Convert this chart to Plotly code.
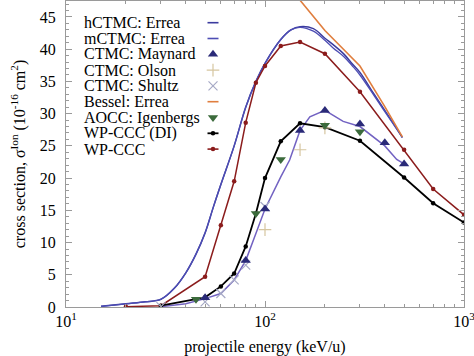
import plotly.graph_objects as go

# ---------------- data ----------------
energy_h = [15, 20, 25, 30, 35, 40, 45, 50, 55, 60, 70, 80, 90, 100, 120, 135, 150, 175, 200, 220, 250, 275, 300, 350, 400, 450, 490]
hctmc = [0.1, 0.5, 0.8, 1.2, 2.9, 5.3, 8.2, 11.5, 15.5, 19.0, 25.0, 31.0, 35.0, 37.8, 41.5, 43.0, 43.5, 43.2, 41.7, 40.7, 39.2, 37.7, 36.4, 33.2, 30.5, 28.1, 26.3]
mctmc = [0.1, 0.5, 0.8, 1.2, 2.9, 5.3, 8.2, 11.5, 15.5, 19.0, 25.0, 31.0, 35.0, 37.8, 41.5, 43.0, 43.4, 42.8, 41.4, 40.2, 38.8, 37.4, 36.0, 33.0, 30.3, 28.0, 26.3]

energy_maynard = [50, 80, 100, 150, 200, 300, 400, 500]
maynard = [1.45, 7.2, 15.2, 27.4, 30.5, 28.4, 25.5, 22.2]

energy_ctmc_line = [30, 40, 50, 60, 70, 80, 90, 100, 120, 133, 150, 168, 200, 247, 300, 364, 400, 459, 500]
ctmc_line = [0.05, 0.5, 1.3, 2.1, 4.2, 7.2, 11.4, 15.2, 20.2, 22.8, 27.4, 29.5, 30.5, 28.8, 28.0, 25.9, 25.0, 22.9, 22.2]

energy_olson = [100, 150, 200]
olson = [12.0, 24.4, 27.8]

energy_shultz = [30, 50, 60, 70, 80, 100]
shultz = [0.05, 0.8, 2.1, 4.2, 6.5, 15.6]

energy_bessel = [140, 150, 200, 300, 400, 490]
bessel = [49.0, 47.6, 42.9, 37.4, 31.1, 26.4]

energy_aocc = [45, 90, 120, 200, 300]
aocc = [1.2, 14.5, 22.9, 28.2, 27.2]

energy_di = [30, 50, 60, 70, 80, 90, 100, 120, 150, 200, 300, 500, 700, 1000]
wpccc_di = [0.2, 1.5, 3.2, 5.2, 9.4, 14.5, 20.0, 25.7, 28.5, 27.9, 25.8, 20.1, 16.1, 13.1]

energy_wp = [20, 30, 50, 60, 70, 80, 90, 100, 120, 150, 200, 300, 500, 700, 1000]
wpccc = [0.05, 0.2, 4.7, 12.7, 19.5, 28.6, 34.8, 37.4, 40.5, 41.1, 39.3, 33.4, 24.4, 18.3, 14.3]

legend_labels = ["hCTMC: Errea", "mCTMC: Errea", "CTMC: Maynard", "CTMC: Olson", "CTMC: Shultz",
                 "Bessel: Errea", "AOCC: Igenbergs", "WP-CCC (DI)", "WP-CCC"]

x_ticks = [10, 100, 1000]
x_ticktext = ["10<sup>1</sup>", "10<sup>2</sup>", "10<sup>3</sup>"]
x_minor = [20, 30, 40, 50, 60, 70, 80, 90, 200, 300, 400, 500, 600, 700, 800, 900]

# ---------------- style ----------------
C_H = "#3b3b9e"
C_M = "#4d4db4"
C_MAY = "#2a2a78"
C_PURP = "#7262c2"
C_OLS = "#d6c6a0"
C_SHU = "#a6a9c6"
C_BES = "#e07e3e"
C_AOCC = "#3c6b3c"
C_DI = "#000000"
C_WP = "#8b1c1c"
FONT = "Liberation Serif, Times New Roman, DejaVu Serif, serif"

fig = go.Figure()
fig.add_trace(go.Scatter(x=energy_h, y=hctmc, mode="lines", line=dict(color=C_H, width=1.5), line_shape="spline"))
fig.add_trace(go.Scatter(x=energy_h, y=mctmc, mode="lines", line=dict(color=C_M, width=1.3), line_shape="spline"))
fig.add_trace(go.Scatter(x=energy_ctmc_line, y=ctmc_line, mode="lines", line=dict(color=C_PURP, width=1.5)))
fig.add_trace(go.Scatter(x=energy_bessel, y=bessel, mode="lines", line=dict(color=C_BES, width=1.6)))
fig.add_trace(go.Scatter(x=energy_wp, y=wpccc, mode="lines+markers", line=dict(color=C_WP, width=1.5),
                         marker=dict(color=C_WP, size=4.5)))
fig.add_trace(go.Scatter(x=energy_di, y=wpccc_di, mode="lines+markers", line=dict(color=C_DI, width=1.8),
                         marker=dict(color=C_DI, size=4.5)))
fig.add_trace(go.Scatter(x=energy_olson, y=olson, mode="markers",
                         marker=dict(symbol="cross-thin", size=9, line=dict(color=C_OLS, width=1.2))))
fig.add_trace(go.Scatter(x=energy_shultz, y=shultz, mode="markers",
                         marker=dict(symbol="x-thin", size=9, line=dict(color=C_SHU, width=1.2))))
fig.add_trace(go.Scatter(x=energy_aocc, y=aocc, mode="markers",
                         marker=dict(symbol="triangle-down", size=9, color=C_AOCC)))
fig.add_trace(go.Scatter(x=energy_maynard, y=maynard, mode="markers",
                         marker=dict(symbol="triangle-up", size=9, color=C_MAY)))

# ---------------- custom legend (text left, key right) ----------------
W, H = 474, 356
L, R, T, B = 66, 10, 1, 49
pw, ph = W - L - R, H - T - B
def px_x(p):
    return (p - L) / pw
def px_y(p):
    return (H - B - p) / ph

row0, dy = 22.7, 15.8
text_x, key_x, key_half = 82, 213, 5.5
keys = [
    dict(line=C_H), dict(line=C_M),
    dict(marker=dict(symbol="triangle-up", size=9, color=C_MAY)),
    dict(marker=dict(symbol="cross-thin", size=9, line=dict(color=C_OLS, width=1.2))),
    dict(marker=dict(symbol="x-thin", size=9, line=dict(color=C_SHU, width=1.2))),
    dict(line=C_BES),
    dict(marker=dict(symbol="triangle-down", size=9, color=C_AOCC)),
    dict(line=C_DI, marker=dict(size=4.5, color=C_DI)),
    dict(line=C_WP, marker=dict(size=4.5, color=C_WP)),
]
for i, (lab, k) in enumerate(zip(legend_labels, keys)):
    yc = px_y(row0 + i * dy)
    fig.add_annotation(x=px_x(text_x), y=yc, xref="paper", yref="paper", text=lab, showarrow=False,
                       xanchor="left", yanchor="middle", font=dict(family=FONT, size=16, color="black"))
    if "line" in k:
        fig.add_shape(type="line", xref="paper", yref="paper",
                      x0=px_x(key_x - key_half), x1=px_x(key_x + key_half), y0=yc, y1=yc,
                      line=dict(color=k["line"], width=1.6 if k["line"] != C_DI else 1.8))
    if "marker" in k:
        fig.add_trace(go.Scatter(x=[px_x(key_x)], y=[yc], xaxis="x2", yaxis="y2", mode="markers",
                                 marker=k["marker"], hoverinfo="skip"))

axis_common = dict(showline=True, linecolor="#9a9a9a", linewidth=1, mirror="allticks", ticks="inside",
                   ticklen=6, tickcolor="#9a9a9a", tickwidth=1, showgrid=False, zeroline=False,
                   tickfont=dict(family=FONT, size=16, color="black"), ticklabeloverflow="allow")

fig.update_layout(
    width=W, height=H, margin=dict(l=L, r=R, t=T, b=B, autoexpand=False),
    paper_bgcolor="white", plot_bgcolor="white", showlegend=False,
    font=dict(family=FONT, size=16, color="black"),
    xaxis=dict(type="log", range=[1, 3], tickvals=x_ticks, ticktext=x_ticktext,
               minor=dict(tickvals=x_minor, ticks="inside", ticklen=3, tickcolor="#9a9a9a"),
               title=dict(text="projectile energy (keV/u)", font=dict(family=FONT, size=16, color="black"), standoff=11),
               automargin=False, **axis_common),
    yaxis=dict(range=[0, 47.48], tickvals=list(range(0, 50, 5)),
               minor=dict(dtick=1, ticks="inside", ticklen=3, tickcolor="#9a9a9a"),
               ticklabelstandoff=6,
               title=dict(text="cross section, σ<sup>Ion</sup> (10<sup>-16</sup> cm<sup>2</sup>)",
                          font=dict(family=FONT, size=16, color="black"), standoff=10),
               automargin=False, **axis_common),
    xaxis2=dict(overlaying="x", range=[0, 1], visible=False, fixedrange=True),
    yaxis2=dict(overlaying="y", range=[0, 1], visible=False, fixedrange=True),
)

fig.write_html("out.html", config={"displayModeBar": False},
               post_script="document.body.style.margin='0px';")
